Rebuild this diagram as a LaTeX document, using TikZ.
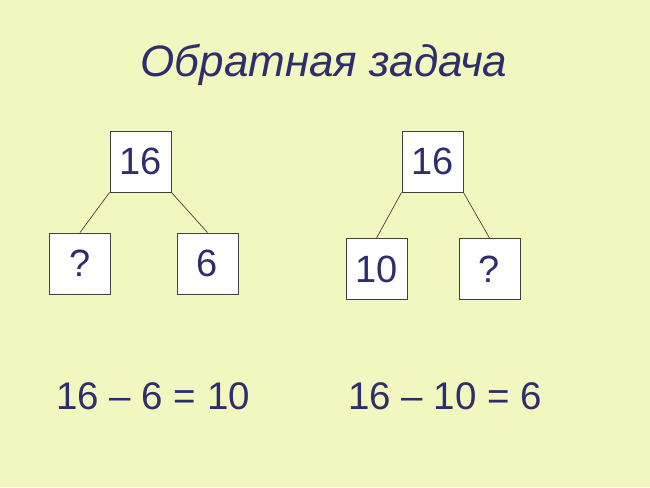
\documentclass[tikz,border=0pt]{standalone}
\usepackage{fontspec}
\setmainfont{Liberation Sans}
\definecolor{slide}{RGB}{242,247,192}
\definecolor{ink}{RGB}{46,46,110}
\definecolor{edge}{RGB}{64,64,64}
\tikzset{
  numbox/.style={draw=edge,line width=0.9pt,fill=white,minimum size=61pt,inner sep=0pt,text=ink,font=\fontsize{38}{42}\selectfont},
  eqtext/.style={anchor=base,text=ink,font=\fontsize{38.5}{42}\selectfont},
  branch/.style={edge,line width=0.7pt}
}
\begin{document}
\begin{tikzpicture}[x=1pt,y=-1pt]
  \fill[slide] (0,0) rectangle (650,487);
  \useasboundingbox (0,0) rectangle (650,487);
  \node[anchor=base,text=ink,font=\fontsize{44}{48}\selectfont\itshape] (title) at (324,77) {Обратная задача};
  % left tree
  \node[numbox] (top1) at (140.5,161.5) {16};
  \node[numbox] (a1) at (80,263.5) {?};
  \node[numbox] (b1) at (207.5,263.5) {6};
  \draw[branch] (top1.south west) -- (a1.north);
  \draw[branch] (top1.south east) -- (b1.north);
  % right tree
  \node[numbox] (top2) at (432.5,161.5) {16};
  \node[numbox] (a2) at (376.5,269) {10};
  \node[numbox] (b2) at (489.5,269) {?};
  \draw[branch] (top2.south west) -- (a2.north);
  \draw[branch] (top2.south east) -- (b2.north);
  % equations
  \node[eqtext] (eq1) at (153,409) {16 – 6 = 10};
  \node[eqtext] (eq2) at (445,409) {16 – 10 = 6};
\end{tikzpicture}
\end{document}
